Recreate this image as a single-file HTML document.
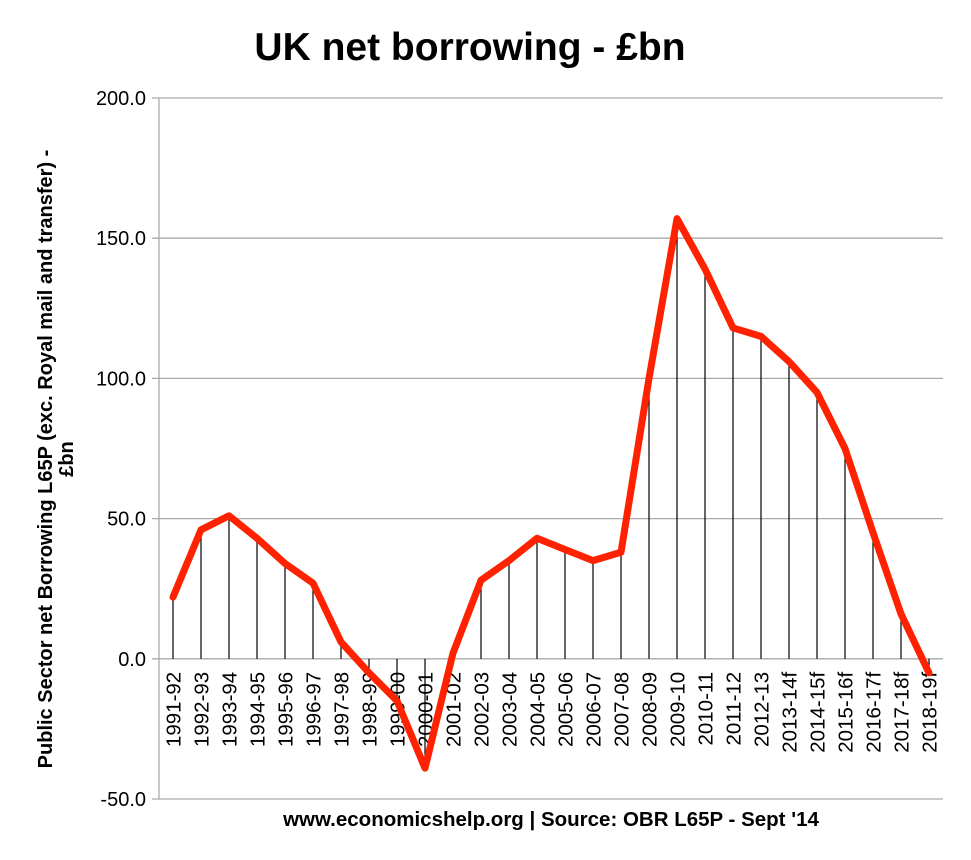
<!DOCTYPE html>
<html><head><meta charset="utf-8"><style>
body{margin:0;background:#fff;}
svg{display:block;font-family:"Liberation Sans",Arial,sans-serif;}
</style></head><body>
<svg id="chart" width="971" height="860" viewBox="0 0 971 860">
<rect width="971" height="860" fill="#fff"/>
<text x="470" y="60" text-anchor="middle" font-size="39" font-weight="bold">UK net borrowing - £bn</text>
<text transform="translate(52,459) rotate(-90)" text-anchor="middle" font-size="20" font-weight="bold"><tspan x="0" dy="0">Public Sector net Borrowing L65P (exc. Royal mail and transfer) -</tspan><tspan x="0" dy="21">£bn</tspan></text>
<text x="551" y="826" text-anchor="middle" font-size="20.5" font-weight="bold">www.economicshelp.org | Source: OBR L65P - Sept '14</text>
<g id="grid"></g><g id="drops"></g><g id="labels"></g><g id="series"></g>
</svg>
<script>
const categories=["1991-92","1992-93","1993-94","1994-95","1995-96","1996-97","1997-98","1998-99","1999-00","2000-01","2001-02","2002-03","2003-04","2004-05","2005-06","2006-07","2007-08","2008-09","2009-10","2010-11","2011-12","2012-13","2013-14f","2014-15f","2015-16f","2016-17f","2017-18f","2018-19f"];
const borrowing=[22,46,51,43,34,27,6,-5,-15,-39,2,28,35,43,39,35,38,100,157,139,118,115,106,95,75,45,16,-5];
const yTicks=[200,150,100,50,0,-50];
const yTickLabels=["200.0","150.0","100.0","50.0","0.0","-50.0"];
const NS="http://www.w3.org/2000/svg";
const x0=159,x1=943,yTop=98,yBot=799,vmax=200,vmin=-50;
const band=(x1-x0)/categories.length;
function xs(i){return x0+band*(i+0.5);}
function ys(v){return yTop+(vmax-v)/(vmax-vmin)*(yBot-yTop);}
function mk(tag,attrs,parent){const e=document.createElementNS(NS,tag);for(const k in attrs)e.setAttribute(k,attrs[k]);document.getElementById(parent).appendChild(e);return e;}
yTicks.forEach((t,i)=>{
  const g=mk('line',{x1:x0-7,x2:x1,y1:ys(t),y2:ys(t),stroke:'#aaa','stroke-width':1.3},'grid');
  
  
  const tx=mk('text',{x:x0-13,y:ys(t)+7,'text-anchor':'end','font-size':20},'grid');
  tx.textContent=yTickLabels[i];
  
  
});
const ax=mk('line',{x1:x0,x2:x0,y1:yTop,y2:yBot,stroke:'#aaa','stroke-width':1.3},'grid');


categories.forEach((c,i)=>{
  const d=mk('line',{x1:xs(i),x2:xs(i),y1:ys(0),y2:ys(borrowing[i]),stroke:'#000','stroke-width':1.2},'drops');
  
  
  const t=mk('text',{transform:`translate(${xs(i)+7.5},${ys(0)+13}) rotate(-90)`,'text-anchor':'end','font-size':20.5},'labels');
  t.textContent=c;
  
  
});
const p=mk('polyline',{points:borrowing.map((v,i)=>xs(i)+','+ys(v)).join(' '),fill:'none',stroke:'#ff2200','stroke-width':7,'stroke-linejoin':'round','stroke-linecap':'round'},'series');


</script>
</body></html>
